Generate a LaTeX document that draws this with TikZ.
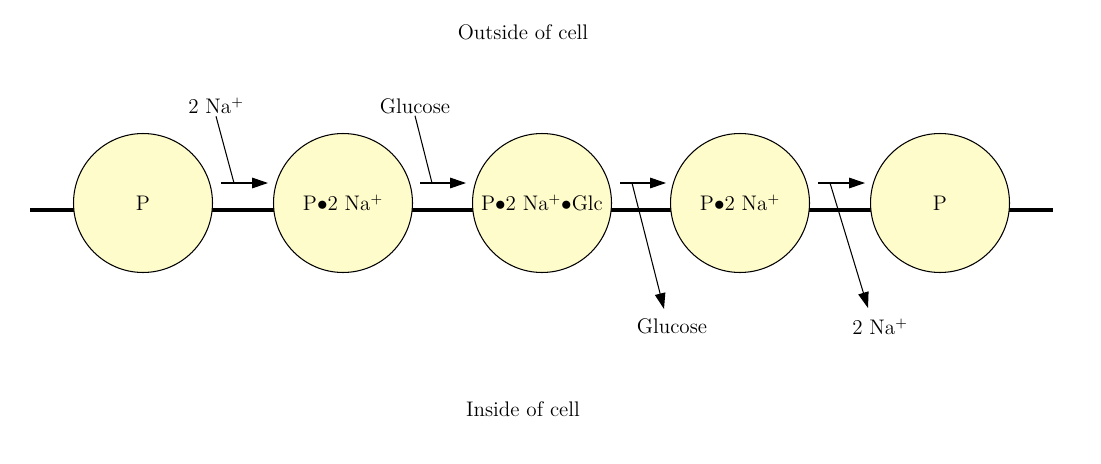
\documentclass[tikz,border=0pt]{standalone}
\usetikzlibrary{arrows.meta}
\begin{document}
\begin{tikzpicture}[x=0.02cm,y=-0.02cm,
  cellc/.style={circle,draw=black,line width=0.6pt,fill=yellow!20,minimum size=2.78cm,inner sep=0pt,font=\fontsize{12}{14}\selectfont},
  lbl/.style={font=\fontsize{12}{14}\selectfont,inner sep=1pt},
  arr/.style={line width=0.6pt,-{Triangle[length=9pt,width=6pt]}},
  thin/.style={line width=0.6pt}]
\useasboundingbox (0,0) rectangle (1101,463);
\draw[line width=1.8pt] (30,210) -- (1053,210);
\node[cellc] (c1) at (143,203) {P};
\node[cellc] (c2) at (343,203) {P$\bullet$2 Na$^+$};
\node[cellc] (c3) at (542,203) {P$\bullet$2 Na$^+$$\bullet$Glc};
\node[cellc] (c4) at (740,203) {P$\bullet$2 Na$^+$};
\node[cellc] (c5) at (940,203) {P};
\node[lbl] (out) at (523,32) {Outside of cell};
\node[lbl] (in) at (523,409) {Inside of cell};
\node[lbl] (na1) at (216,106) {2 Na$^+$};
\node[lbl] (gl1) at (415,106) {Glucose};
\node[lbl] (gl2) at (672,326) {Glucose};
\node[lbl] (na2) at (880,327) {2 Na$^+$};
\coordinate (a1s) at (221,183); \coordinate (a1e) at (268,183); \coordinate (a1j) at (234,183);
\coordinate (a2s) at (420,183); \coordinate (a2e) at (466,183); \coordinate (a2j) at (432,183);
\coordinate (a3s) at (620,183); \coordinate (a3e) at (666,183); \coordinate (a3j) at (632,183);
\coordinate (a4s) at (818,183); \coordinate (a4e) at (865,183); \coordinate (a4j) at (830,183);
\draw[arr] (a1s) -- (a1e);
\draw[thin] (na1.south) -- (a1j);
\draw[arr] (a2s) -- (a2e);
\draw[thin] (gl1.south) -- (a2j);
\draw[arr] (a3s) -- (a3e);
\draw[arr] (a3j) -- (664,309);
\draw[arr] (a4s) -- (a4e);
\draw[arr] (a4j) -- (868,308);
\end{tikzpicture}
\end{document}
